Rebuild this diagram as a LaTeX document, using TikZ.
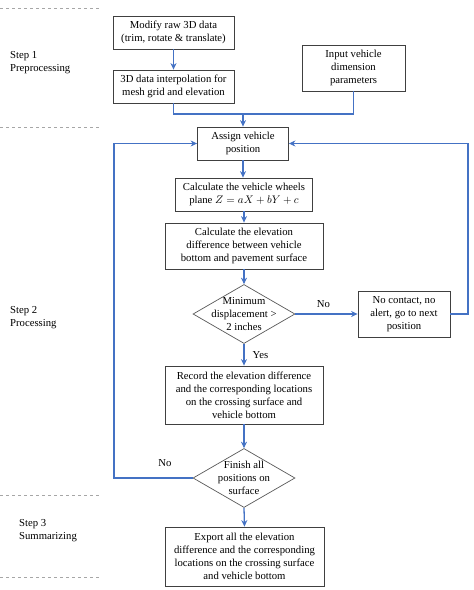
\documentclass[tikz,border=0pt]{standalone}
\usepackage{fontspec}
\setmainfont{Liberation Serif}
\usetikzlibrary{arrows.meta,shapes.geometric}
\tikzset{>={Stealth[length=6.5pt,width=6pt]}}
\definecolor{flowblue}{RGB}{68,114,196}
\tikzset{
  txt/.style={font=\fontsize{10.7}{13}\selectfont, align=center, inner sep=0pt},
  box/.style={txt, draw=black!75, line width=0.8pt, fill=white, minimum width=#1},
  box/.default=100pt,
  decision/.style={diamond, draw=black!65, line width=0.7pt, fill=white,
    minimum width=102pt, minimum height=59pt, inner sep=0pt},
  flow/.style={draw=flowblue, line width=1.3pt},
  sep/.style={draw=black!35, dashed, line width=0.5pt},
  steplabel/.style={font=\fontsize{10.7}{13}\selectfont, align=left, anchor=north west, inner sep=0pt}
}

\begin{document}
\begin{tikzpicture}[x=1pt, y=-1pt]
  \useasboundingbox (0, 0) rectangle (474, 590);

  % step separators
  \foreach \y in {8, 127, 495, 577}
    \draw[sep] (0, \y) -- (100, \y);

  \node[steplabel] (step1) at (10, 51) {Step 1\\Preprocessing};
  \node[steplabel] (step2) at (10, 306) {Step 2\\Processing};
  \node[steplabel] (step3) at (19, 519) {Step 3\\Summarizing};

  % boxes
  \node[box=121pt, minimum height=33pt] (mod) at (173.5, 32.5)
    {Modify raw 3D data\\(trim, rotate \& translate)};
  \node[box=121pt, minimum height=33pt] (interp) at (173.5, 86.5)
    {3D data interpolation for\\mesh grid and elevation};
  \node[box=103pt, minimum height=46pt] (input) at (353.5, 68)
    {Input vehicle\\dimension\\parameters};
  \node[box=91pt, minimum height=33pt] (assign) at (243, 143.5)
    {Assign vehicle\\position};
  \node[box=137pt, minimum height=33pt] (plane) at (244, 194.5)
    {Calculate the vehicle wheels\\plane $Z = aX + bY + c$};
  \node[box=158pt, minimum height=46pt] (elev) at (244, 246)
    {Calculate the elevation\\difference between vehicle\\bottom and pavement surface};
  \node[decision] (mindisp) at (244, 314) {};
  \node[txt] (mindisptxt) at (mindisp) {Minimum\\displacement >\\2 inches};
  \node[box=92pt, minimum height=46pt] (nocontact) at (404, 314)
    {No contact, no\\alert, go to next\\position};
  \node[box=158pt, minimum height=58pt] (record) at (244, 395)
    {Record the elevation difference\\and the corresponding locations\\on the crossing surface and\\vehicle bottom};
  \node[decision] (finish) at (244, 478) {};
  \node[txt] (finishtxt) at (finish) {Finish all\\positions on\\surface};
  \node[box=159pt, minimum height=59pt] (export) at (244.5, 556.5)
    {Export all the elevation\\difference and the corresponding\\locations on the crossing surface\\and vehicle bottom};

  \coordinate (join) at (243, 114);
  \coordinate (rloop) at (468, 143.5);
  \coordinate (lloop) at (114, 143.5);

  % connectors
  \draw[flow, ->] (mod) -- (interp);
  \draw[flow] (interp.south) |- (join) -| (input.south);
  \draw[flow, ->] (join) -- (assign.north);
  \draw[flow, ->] (assign.south) -- (assign.south |- plane.north);
  \draw[flow, ->] (plane) -- (elev);
  \draw[flow, ->] (elev) -- (mindisp.north);
  \draw[flow, ->] (mindisp.east) -- (nocontact.west)
    node[txt, pos=0.45, above=6pt] {No};
  \draw[flow, ->] (mindisp.south) -- (record.north)
    node[txt, midway, right=8pt] {Yes};
  \draw[flow, ->] (record) -- (finish.north);
  \draw[flow, ->] (finish.south) -- (export.north);
  \draw[flow, ->] (nocontact.east) -| (rloop) -- (assign.east);
  \draw[flow, ->] (finish.west) -| (lloop) -- (assign.west);
  \node[txt] (nolabel) at (165, 463) {No};
\end{tikzpicture}
\end{document}
